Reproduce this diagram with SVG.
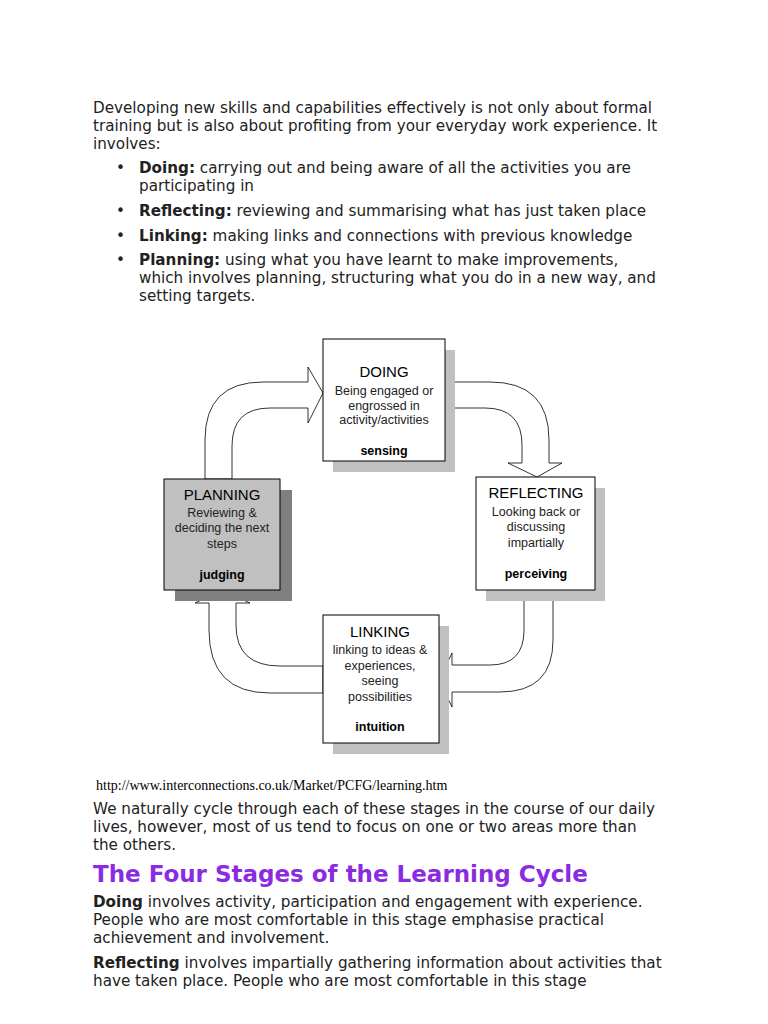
<svg xmlns="http://www.w3.org/2000/svg" width="768" height="1024" viewBox="0 0 768 1024">
<style>
.b{font-family:"DejaVu Sans",sans-serif;font-size:15.2px;fill:#222}
.bb{font-weight:bold}
.h{font-family:"Liberation Sans",Arial,sans-serif;font-size:15px;fill:#000;text-anchor:middle}
.s{font-family:"Liberation Sans",Arial,sans-serif;font-size:12.5px;fill:#222;text-anchor:middle}
.k{font-family:"Liberation Sans",Arial,sans-serif;font-size:12.5px;font-weight:bold;fill:#000;text-anchor:middle}
.box{fill:#fff;stroke:#000;stroke-width:1}
.sh{fill:#c0c0c0}
.arr{fill:#fff;stroke:#000;stroke-width:0.8}
</style>
<rect width="768" height="1024" fill="#fff"/>
<g id="intro">
<text class="b" x="93" y="113">Developing new skills and capabilities effectively is not only about formal</text>
<text class="b" x="93" y="131">training but is also about profiting from your everyday work experience. It</text>
<text class="b" x="93" y="149">involves:</text>
<text class="b" x="116" y="173">•</text><text class="b" x="139" y="173"><tspan class="bb">Doing:</tspan> carrying out and being aware of all the activities you are</text>
<text class="b" x="139" y="191">participating in</text>
<text class="b" x="116" y="216">•</text><text class="b" x="139" y="216"><tspan class="bb">Reflecting:</tspan> reviewing and summarising what has just taken place</text>
<text class="b" x="116" y="241">•</text><text class="b" x="139" y="241"><tspan class="bb">Linking:</tspan> making links and connections with previous knowledge</text>
<text class="b" x="116" y="265">•</text><text class="b" x="139" y="265"><tspan class="bb">Planning:</tspan> using what you have learnt to make improvements,</text>
<text class="b" x="139" y="283">which involves planning, structuring what you do in a new way, and</text>
<text class="b" x="139" y="301">setting targets.</text>
</g>
<g id="connectors">
<path class="arr" d="M205,479 L205,440 Q205,382 263,382 L308,382 L308,367 L323,393 L308,423 L308,408 L270,408 Q232,408 232,446 L232,479 Z"/>
<path class="arr" d="M445,382 L490,382 Q549,382 549,440 L549,463 L562,463 L537,477 L508,463 L522,463 L522,445 Q522,408 485,408 L445,408 Z"/>
<path class="arr" d="M553,590 L553,640 Q553,692 500,692 L452,692 L452,707 L439,680 L452,653 L452,665 L490,665 Q524,665 524,630 L524,590 Z"/>
<path class="arr" d="M323,666 L280,666 Q236,666 236,625 L236,603 L250,603 L222,590 L195,603 L209,603 L209,630 Q209,693 270,693 L323,693 Z"/>
</g>
<g id="doing">
<rect class="sh" x="333" y="350" width="122" height="122"/>
<rect class="box" x="323" y="339" width="122" height="122"/>
<text class="h" x="384" y="377">DOING</text>
<text class="s" x="384" y="395">Being engaged or</text>
<text class="s" x="384" y="410">engrossed in</text>
<text class="s" x="384" y="424">activity/activities</text>
<text class="k" x="384" y="455">sensing</text>
</g>
<g id="reflecting">
<rect class="sh" x="486" y="488" width="119" height="113"/>
<rect class="box" x="476" y="477" width="119" height="113"/>
<text class="h" x="536" y="498">REFLECTING</text>
<text class="s" x="536" y="516">Looking back or</text>
<text class="s" x="536" y="531">discussing</text>
<text class="s" x="536" y="547">impartially</text>
<text class="k" x="536" y="578">perceiving</text>
</g>
<g id="planning">
<rect fill="#808080" x="175" y="490" width="117" height="111"/>
<rect class="box" style="fill:#c0c0c0" x="164" y="479" width="116" height="111"/>
<text class="h" x="222" y="500">PLANNING</text>
<text class="s" x="222" y="517">Reviewing &amp;</text>
<text class="s" x="222" y="532">deciding the next</text>
<text class="s" x="222" y="548">steps</text>
<text class="k" x="222" y="579">judging</text>
</g>
<g id="linking">
<rect class="sh" x="333" y="626" width="116" height="128"/>
<rect class="box" x="323" y="615" width="116" height="128"/>
<text class="h" x="380" y="637">LINKING</text>
<text class="s" x="380" y="654">linking to ideas &amp;</text>
<text class="s" x="380" y="670">experiences,</text>
<text class="s" x="380" y="685">seeing</text>
<text class="s" x="380" y="701">possibilities</text>
<text class="k" x="380" y="731">intuition</text>
</g>
<g id="outro">
<text x="96" y="790" style="font-family:'Liberation Serif',serif;font-size:14px;fill:#000">http://www.interconnections.co.uk/Market/PCFG/learning.htm</text>
<text class="b" x="93" y="814">We naturally cycle through each of these stages in the course of our daily</text>
<text class="b" x="93" y="832">lives, however, most of us tend to focus on one or two areas more than</text>
<text class="b" x="93" y="850">the others.</text>
<text x="93" y="882" style="font-family:'DejaVu Sans',sans-serif;font-size:23px;font-weight:bold;fill:#8a2be2">The Four Stages of the Learning Cycle</text>
<text class="b" x="93" y="907"><tspan class="bb">Doing</tspan> involves activity, participation and engagement with experience.</text>
<text class="b" x="93" y="925">People who are most comfortable in this stage emphasise practical</text>
<text class="b" x="93" y="943">achievement and involvement.</text>
<text class="b" x="93" y="968"><tspan class="bb">Reflecting</tspan> involves impartially gathering information about activities that</text>
<text class="b" x="93" y="986">have taken place. People who are most comfortable in this stage</text>
</g>
</svg>
